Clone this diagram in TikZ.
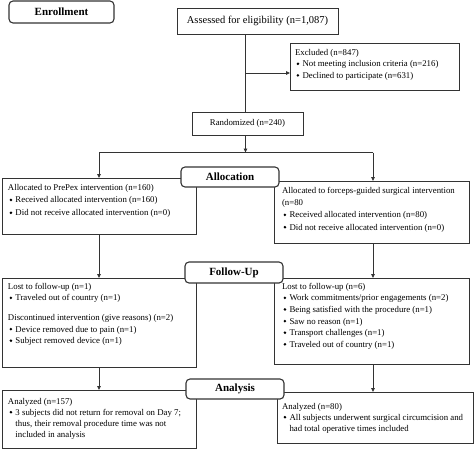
\documentclass[tikz,border=0pt]{standalone}
\usepackage{fontspec}
\setmainfont{Liberation Serif}
\usetikzlibrary{arrows.meta,calc}
\newcommand\bul{\makebox[6pt][l]{\raisebox{1.5pt}{\rotatebox{45}{\rule{2pt}{2pt}}}}}
\newcommand\bi{\hspace*{1.5pt}\bul}
\begin{document}
\begin{tikzpicture}[x=1pt,y=-1pt,
  lc/.style={draw=black!80, line width=0.9pt},
  box/.style={lc, rectangle, inner sep=0pt, outer sep=0pt, fill=white},
  hdr/.style={draw=black!80, line width=1.1pt, rectangle, rounded corners=4pt, inner sep=0pt, outer sep=0pt, fill=white, font=\fontsize{11}{13}\selectfont\bfseries},
  txt/.style={inner sep=0pt, outer sep=0pt, anchor=north west, align=left, font=\fontsize{8.8}{11.6}\selectfont},
  arr/.style={lc, -{Triangle[length=4pt,width=3.6pt]}},
  ln/.style={lc}
]
\useasboundingbox (0,0) rectangle (474,448);
\fill[white] (0,0) rectangle (474,448);

% boxes
\node[box, anchor=north west, minimum width=161pt, minimum height=26pt, font=\fontsize{10.5}{12}\selectfont] (assess) at (177,8) {Assessed for eligibility (n=1,087)};
\node[box, anchor=north west, minimum width=169pt, minimum height=47pt] (excl) at (290,43) {};
\node[txt] (exclT) at ($(excl.north west)+(5,6)$) {Excluded (n=847)\\
\bi Not meeting inclusion criteria (n=216)\\
\bi Declined to participate (n=631)};
\node[box, anchor=north west, minimum width=111pt, minimum height=23pt, font=\fontsize{8.8}{10}\selectfont] (rand) at (192,112) {Randomized (n=240)};

\node[box, anchor=north west, minimum width=194pt, minimum height=56pt] (la) at (2,178) {};
\node[txt, font=\fontsize{8.8}{12.8}\selectfont] (laT) at ($(la.north west)+(6,6)$) {Allocated to PrePex intervention (n=160)\\
\bi Received allocated intervention (n=160)\\
\bi Did not receive allocated intervention (n=0)};
\node[box, anchor=north west, minimum width=195pt, minimum height=62pt] (ra) at (274,181) {};
\node[txt, font=\fontsize{8.8}{12.3}\selectfont] (raT) at ($(ra.north west)+(8,6)$) {Allocated to forceps-guided surgical intervention\\
(n=80\\
\bi Received allocated intervention (n=80)\\
\bi Did not receive allocated intervention (n=0)};

\node[box, anchor=north west, minimum width=194pt, minimum height=89pt] (lf) at (2,278) {};
\node[txt] (lfT) at ($(lf.north west)+(6,5)$) {Lost to follow-up (n=1)\\
\bi Traveled out of country (n=1)\\[8pt]
Discontinued intervention (give reasons) (n=2)\\
\bi Device removed due to pain (n=1)\\
\bi Subject removed device (n=1)};
\node[box, anchor=north west, minimum width=195pt, minimum height=86pt] (rf) at (274,278) {};
\node[txt] (rfT) at ($(rf.north west)+(8,5)$) {Lost to follow-up (n=6)\\
\bi Work commitments/prior engagements (n=2)\\
\bi Being satisfied with the procedure (n=1)\\
\bi Saw no reason (n=1)\\
\bi Transport challenges (n=1)\\
\bi Traveled out of country (n=1)};

\node[box, anchor=north west, minimum width=194pt, minimum height=58pt] (ln) at (2,390) {};
\node[txt, font=\fontsize{8.8}{11}\selectfont] (lnT) at ($(ln.north west)+(6,8)$) {Analyzed (n=157)\\
\bi 3 subjects did not return for removal on Day 7;\\
\hspace*{7.5pt}thus, their removal procedure time was not\\
\hspace*{7.5pt}included in analysis};
\node[box, anchor=north west, minimum width=196pt, minimum height=51pt] (rn) at (277,392) {};
\node[txt, font=\fontsize{8.8}{11}\selectfont] (rnT) at ($(rn.north west)+(5,11)$) {Analyzed (n=80)\\
\bi All subjects underwent surgical circumcision and\\
\hspace*{7.5pt}had total operative times included};

% headers
\node[hdr, anchor=north west, minimum width=105pt, minimum height=22pt] (enr) at (9,1) {Enrollment};
\node[hdr, anchor=north west, minimum width=98pt, minimum height=20pt] (alloc) at (181,167) {Allocation};
\node[hdr, anchor=north west, minimum width=98pt, minimum height=21pt] (fu) at (185,262) {Follow-Up};
\node[hdr, anchor=north west, minimum width=98pt, minimum height=20pt] (an) at (186,379) {Analysis};

% coordinates
\coordinate (trunk) at (245.5,0);
\coordinate (exA) at (0,73);
\coordinate (split) at (0,152.5);
\coordinate (lx) at (99,0);
\coordinate (rx) at (373,0);

% connectors
\draw[ln] (trunk |- assess.south) -- (trunk |- rand.north);
\draw[arr] (trunk |- exA) -- (excl.west |- exA);
\draw[arr] (trunk |- rand.south) -- (trunk |- split);
\draw[ln] (lx |- split) -- (rx |- split);
\draw[arr] (lx |- split) -- (lx |- la.north);
\draw[arr] (rx |- split) -- (rx |- ra.north);
\draw[arr] (lx |- la.south) -- (lx |- lf.north);
\draw[arr] (rx |- ra.south) -- (rx |- rf.north);
\draw[arr] (lx |- lf.south) -- (lx |- ln.north);
\draw[arr] (rx |- rf.south) -- (rx |- rn.north);
\end{tikzpicture}
\end{document}
